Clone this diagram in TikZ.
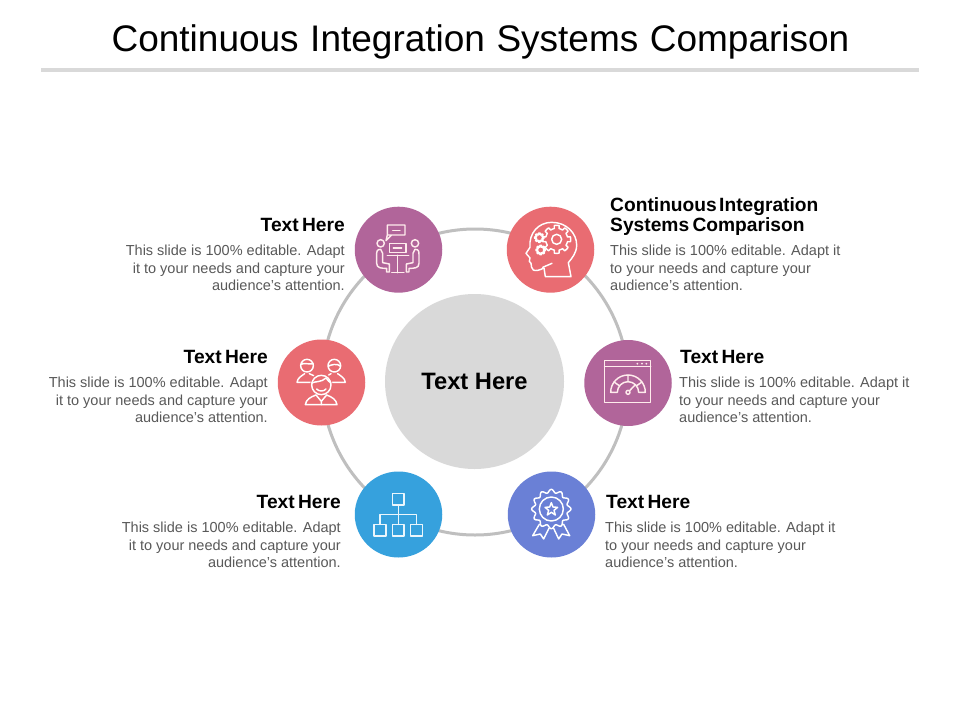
\documentclass[tikz,border=0pt]{standalone}
\usepackage{fontspec}
\usetikzlibrary{shapes.geometric}
\setmainfont{Liberation Sans}
\definecolor{ringgray}{HTML}{BFBFBF}
\definecolor{hubgray}{HTML}{D9D9D9}
\definecolor{plum}{HTML}{B1659A}
\definecolor{coral}{HTML}{E96C72}
\definecolor{skyblue}{HTML}{36A1DD}
\definecolor{periwinkle}{HTML}{6A80D6}
\definecolor{bodygray}{HTML}{595959}
\tikzset{
  disc/.style={ellipse,minimum width=87.5pt,minimum height=86pt,inner sep=0pt,fill=#1},
  icon/.style={draw=#1,line width=1.45pt,line join=round,line cap=round},
  icon/.default=white,
  headl/.style={anchor=base west,inner sep=0pt,font=\fontsize{19.2}{20}\selectfont\bfseries,align=left,text=black},
  headr/.style={anchor=base east,inner sep=0pt,font=\fontsize{19.2}{20}\selectfont\bfseries,align=right,text=black},
  bodyl/.style={anchor=north west,inner sep=0pt,font=\fontsize{14.5}{17.5}\selectfont,align=left,text=bodygray},
  bodyr/.style={anchor=north east,inner sep=0pt,font=\fontsize{14.5}{17.5}\selectfont,align=right,text=bodygray},
  zoomed/.style={shift={(#1)},scale=0.3333}
}
\newcommand{\gearpath}[5]{% cx cy outer inner teeth
  \draw[icon=#5] plot[domain=0:360,samples=145,smooth] ({#1+(#3+(#4-#3)*(cos(8*\x)<0?1:0))*cos(\x)},{#2+(#3+(#4-#3)*(cos(8*\x)<0?1:0))*sin(\x)}) -- cycle;
}
\begin{document}
\begin{tikzpicture}[x=1pt,y=-1pt]
\useasboundingbox (0,0) rectangle (960,720);
\fill[white] (0,0) rectangle (960,720);
\node[anchor=base,inner sep=0pt,font=\fontsize{37}{40}\selectfont] (title) at (480.5,51) {Continuous\hspace{1.2pt} Integration\hspace{1.2pt} Systems\hspace{1.2pt} Comparison};
\coordinate (ruleL) at (41,70); \coordinate (ruleR) at (919,70);
\draw[hubgray,line width=4pt] (ruleL) -- (ruleR);
\coordinate (ringc) at (475,382);
\draw[ringgray,line width=3pt] (ringc) circle (153);
\node[ellipse,minimum width=179pt,minimum height=175pt,inner sep=0pt,fill=hubgray,font=\fontsize{23.7}{26}\selectfont\bfseries] (hub) at (474.5,381.5) {Text Here};
\node[disc=plum] (n1) at (398.5,249.7) {};
\node[disc=coral] (n2) at (550.5,249.7) {};
\node[disc=plum] (n3) at (628,383) {};
\node[disc=coral] (n4) at (321.5,382.5) {};
\node[disc=skyblue] (n5) at (398.5,514.5) {};
\node[disc=periwinkle] (n6) at (551.5,514.5) {};
% icon 1: meeting
\begin{scope}[zoomed={350,200}]
\draw[icon=pink!30] (112,75) rectangle (165,105) (112,105) -- (108,122) -- (125,105);
\draw[icon=pink!30] (128,91) -- (150,91);
\draw[icon=pink!30] (118,130) rectangle (168,158) (130,144) -- (155,144);
\draw[icon=pink!30] (112,166) -- (176,166) (143,166) -- (143,218) (125,218) -- (162,218);
\draw[icon=pink!30] (92,130) circle (11) (195,130) circle (11);
\draw[icon=pink!30] (92,148) .. controls (80,148) and (80,155) .. (80,165) -- (80,190) .. controls (80,205) and (95,205) .. (110,205) -- (110,216) -- (118,216) -- (118,192) -- (98,188) -- (98,160) -- (92,148);
\draw[icon=pink!30] (195,148) .. controls (207,148) and (207,155) .. (207,165) -- (207,190) .. controls (207,205) and (192,205) .. (177,205) -- (177,216) -- (169,216) -- (169,192) -- (189,188) -- (189,160) -- (195,148);
\end{scope}
% icon 2: head with gears
\begin{scope}[zoomed={500,200}]
\draw[icon=white] (213,230) -- (136,230) -- (132,204) .. controls (120,210) and (108,214) .. (100,210) .. controls (94,206) and (94,198) .. (93,190) -- (88,184) -- (90,174) -- (78,160) -- (90,142) .. controls (86,100) and (115,67) .. (155,67) .. controls (200,67) and (230,100) .. (230,135) .. controls (230,160) and (215,175) .. (205,188) -- cycle;
\draw[icon=white] (128,202) -- (156,190);
\gearpath{170}{118}{42}{33}{white}
\draw[icon=white] (170,118) circle (15);
\gearpath{118}{113}{14}{9}{white}
\gearpath{122}{150}{14}{9}{white}
\end{scope}
% icon 3: gauge window
\begin{scope}[zoomed={578,333}]
\draw[icon=pink!30] (80,83) rectangle (218,208) (80,100) -- (218,100);
\fill[pink!30] (178,92) circle (3) (192,92) circle (3) (205,92) circle (3);
\draw[icon=pink!30] (98,178) arc[start angle=180,end angle=0,x radius=52,y radius=-52] -- (182,178) arc[start angle=0,end angle=180,x radius=32,y radius=-32] -- cycle;
\draw[icon=pink!30] (108,147) -- (124,158) (150,126) -- (150,146) (192,147) -- (176,158);
\draw[icon=pink!30] (150,178) circle (6) (154,174) -- (172,155);
\end{scope}
% icon 4: people
\begin{scope}[zoomed={272,333}]
\draw[icon=white] (105,98) circle (19) (86,95) .. controls (95,88) and (110,95) .. (124,92);
\draw[icon=white] (75,148) .. controls (76,135) and (90,128) .. (98,122) (112,122) -- (125,128) (75,148) -- (118,148);
\draw[icon=white] (187,98) circle (19) (168,100) .. controls (178,95) and (195,90) .. (206,100);
\draw[icon=white] (220,148) .. controls (219,135) and (205,128) .. (197,122) (177,122) -- (170,126) (220,148) -- (180,148);
\fill[coral] (148,156) circle (34);
\draw[icon=white] (148,156) circle (29);
\draw[icon=white] (119,150) .. controls (128,145) and (150,148) .. (162,135) .. controls (168,142) and (172,148) .. (177,150);
\draw[icon=white] (134,168) .. controls (140,176) and (156,176) .. (162,168);
\draw[icon=white] (100,215) .. controls (102,200) and (115,192) .. (132,186) (164,186) .. controls (180,192) and (193,200) .. (195,215) -- (100,215);
\draw[icon=white] (132,186) -- (148,205) -- (164,186) (148,205) -- (148,215);
\end{scope}
% icon 5: hierarchy
\begin{scope}[zoomed={350,465}]
\draw[icon=white!90!skyblue] (127,85) rectangle (162,120) (72,178) rectangle (108,213) (127,178) rectangle (162,213) (182,178) rectangle (218,213);
\draw[icon=white!90!skyblue] (145,120) -- (145,178) (90,178) -- (90,149) -- (200,149) -- (200,178);
\end{scope}
% icon 6: badge
\begin{scope}[zoomed={502,465}]
\draw[icon=white] plot[domain=0:360,samples=145,smooth] ({148+(54+5*cos(12*\x))*cos(\x)},{132+(54+5*cos(12*\x))*sin(\x)}) -- cycle;
\draw[icon=white] (148,132) circle (36);
\draw[icon=white] (148,113) -- (153,126) -- (167,127) -- (156,136) -- (160,150) -- (148,142) -- (136,150) -- (140,136) -- (129,127) -- (143,126) -- cycle;
\draw[icon=white] (112,178) -- (92,212) -- (115,207) -- (125,222) -- (141,190);
\draw[icon=white] (185,178) -- (203,212) -- (180,207) -- (170,222) -- (155,190);
\end{scope}
% labels
\node[headr] (h1) at (345,231) {Text\hspace{-2pt} Here};
\node[bodyr] (b1) at (345,245) {This slide is 100\% editable. Adapt\\it to your needs and capture your\\audience's attention.};
\node[headl] (h2) at (610,211) {Continuous\hspace{-3pt} Integration};
\node[headl] (h2b) at (610,231) {Systems\hspace{-2pt} Comparison};
\node[bodyl] (b2) at (610,245) {This slide is 100\% editable. Adapt it\\to your needs and capture your\\audience's attention.};
\node[headl] (h3) at (680,363) {Text\hspace{-2pt} Here};
\node[bodyl] (b3) at (679,377) {This slide is 100\% editable. Adapt it\\to your needs and capture your\\audience's attention.};
\node[headr] (h4) at (268,363) {Text\hspace{-2pt} Here};
\node[bodyr] (b4) at (268,377) {This slide is 100\% editable. Adapt\\it to your needs and capture your\\audience's attention.};
\node[headr] (h5) at (341,508) {Text\hspace{-2pt} Here};
\node[bodyr] (b5) at (341,522) {This slide is 100\% editable. Adapt\\it to your needs and capture your\\audience's attention.};
\node[headl] (h6) at (606,508) {Text\hspace{-2pt} Here};
\node[bodyl] (b6) at (605,522) {This slide is 100\% editable. Adapt it\\to your needs and capture your\\audience's attention.};
\end{tikzpicture}
\end{document}
